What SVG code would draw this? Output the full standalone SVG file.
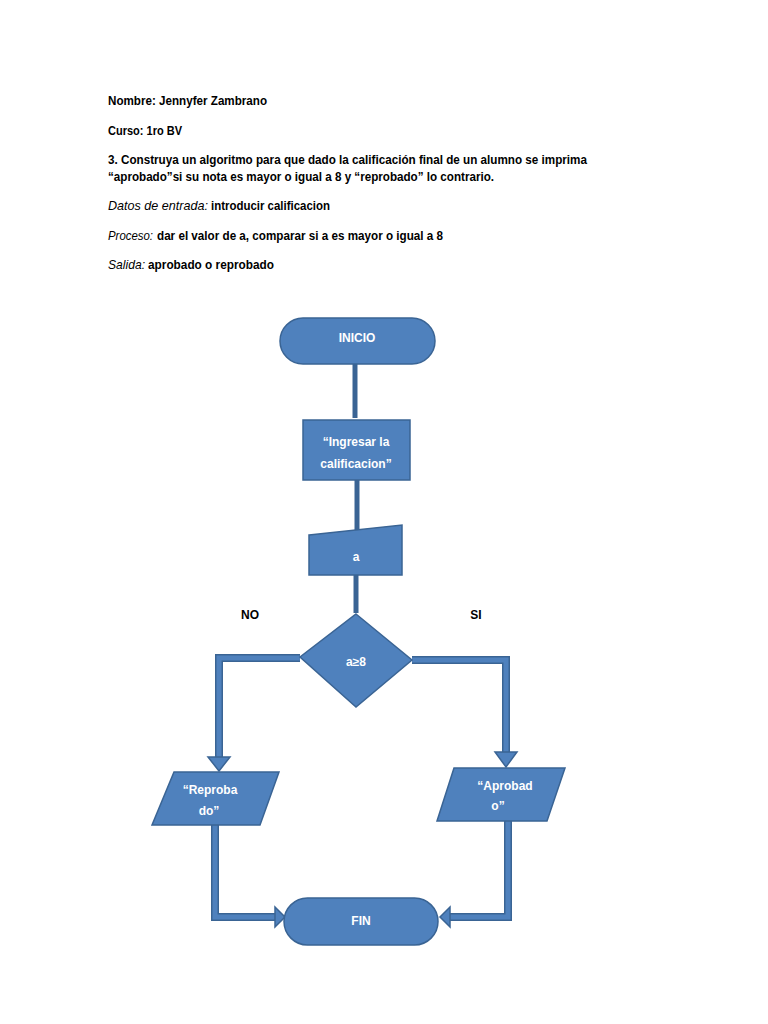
<svg xmlns="http://www.w3.org/2000/svg" width="768" height="1024" viewBox="0 0 768 1024">
<style>
.hdr{font-family:"Liberation Sans",Arial,sans-serif;font-size:13px;fill:#000}
.b{font-weight:bold}
.i{font-style:italic}
.node{fill:#4f81bd;stroke:#3a6494;stroke-width:1.5}
.lbl{font-family:"Liberation Sans",Arial,sans-serif;font-size:12px;font-weight:bold;fill:#fff;text-anchor:middle}
.side{font-family:"Liberation Sans",Arial,sans-serif;font-size:12px;font-weight:bold;fill:#000;text-anchor:middle}
.sh-o{fill:none;stroke:#3a6494;stroke-width:8}
.sh-i{fill:none;stroke:#4f81bd;stroke-width:5}
.thin{fill:none;stroke:#3a6494;stroke-width:5}
.head{fill:#4f81bd;stroke:#3a6494;stroke-width:1.5}
</style>
<rect width="768" height="1024" fill="#fff"/>
<g id="header">
<text class="hdr b" x="108" y="105" textLength="159" lengthAdjust="spacingAndGlyphs">Nombre: Jennyfer Zambrano</text>
<text class="hdr b" x="108" y="135" textLength="74" lengthAdjust="spacingAndGlyphs">Curso: 1ro BV</text>
<text class="hdr b" x="108" y="164" textLength="479" lengthAdjust="spacingAndGlyphs">3. Construya un algoritmo para que dado la calificación final de un alumno se imprima</text>
<text class="hdr b" x="108" y="181" textLength="386" lengthAdjust="spacingAndGlyphs">“aprobado”si su nota es mayor o igual a 8 y “reprobado” lo contrario.</text>
<text class="hdr i" x="108" y="210" textLength="100" lengthAdjust="spacingAndGlyphs">Datos de entrada:</text>
<text class="hdr b" x="211" y="210" textLength="119" lengthAdjust="spacingAndGlyphs">introducir calificacion</text>
<text class="hdr i" x="108" y="240" textLength="45" lengthAdjust="spacingAndGlyphs">Proceso:</text>
<text class="hdr b" x="157" y="240" textLength="286" lengthAdjust="spacingAndGlyphs">dar el valor de a, comparar si a es mayor o igual a 8</text>
<text class="hdr i" x="108" y="269" textLength="37" lengthAdjust="spacingAndGlyphs">Salida:</text>
<text class="hdr b" x="148" y="269" textLength="126" lengthAdjust="spacingAndGlyphs">aprobado o reprobado</text>
</g>
<g id="connectors">
<line class="thin" x1="355" y1="364" x2="355" y2="418"/>
<line class="thin" x1="357" y1="480" x2="357" y2="530"/>
<line class="thin" x1="356" y1="575" x2="356" y2="613"/>
<path class="sh-o" d="M300 658 H219 V758"/>
<path class="sh-i" d="M300 658 H219 V758"/>
<polygon class="head" points="208,757 230,757 219,771"/>
<path class="sh-o" d="M412 660 H506 V753"/>
<path class="sh-i" d="M412 660 H506 V753"/>
<polygon class="head" points="495,752 517,752 506,767"/>
<path class="sh-o" d="M215 825 V917 H276"/>
<path class="sh-i" d="M215 825 V917 H276"/>
<polygon class="head" points="275,907 275,927 285,917"/>
<path class="sh-o" d="M508 821 V917 H449"/>
<path class="sh-i" d="M508 821 V917 H449"/>
<polygon class="head" points="450,907 450,927 440,917"/>
</g>
<g id="inicio">
<rect class="node" x="280" y="318" width="155" height="46" rx="23"/>
<text class="lbl" x="357" y="342">INICIO</text>
</g>
<g id="ingresar">
<rect class="node" x="303" y="420" width="107" height="60"/>
<text class="lbl" x="356" y="446">“Ingresar la</text>
<text class="lbl" x="356" y="468">calificacion”</text>
</g>
<g id="entrada_a">
<polygon class="node" points="309,535 402,525 402,575 309,575"/>
<text class="lbl" x="356" y="561">a</text>
</g>
<g id="decision">
<polygon class="node" points="356,614 412,660 356,707 300,657"/>
<text class="lbl" x="356" y="666">a≥8</text>
</g>
<text class="side" x="250" y="619">NO</text>
<text class="side" x="476" y="619">SI</text>
<g id="reprobado">
<polygon class="node" points="174,772 279,772 260,825 152,825"/>
<text class="lbl" x="210" y="794">“Reproba</text>
<text class="lbl" x="209" y="815">do”</text>
</g>
<g id="aprobado">
<polygon class="node" points="454,768 565,768 547,821 437,821"/>
<text class="lbl" x="505" y="790">“Aprobad</text>
<text class="lbl" x="498" y="810">o”</text>
</g>
<g id="fin">
<rect class="node" x="284" y="898" width="154" height="47" rx="23.5"/>
<text class="lbl" x="361" y="925">FIN</text>
</g>
</svg>
